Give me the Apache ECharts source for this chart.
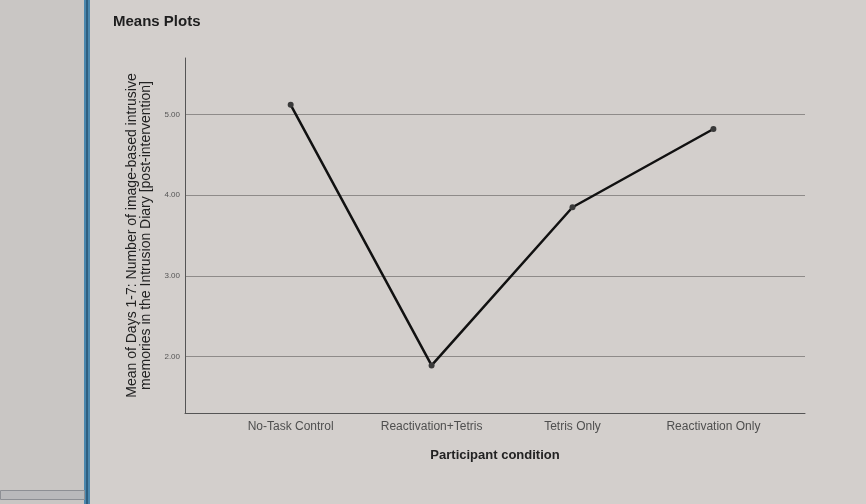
<!DOCTYPE html>
<html><head><meta charset="utf-8">
<script src="https://cdn.jsdelivr.net/npm/echarts@6/dist/echarts.min.js"></script>
<style>html,body{margin:0;padding:0;background:#d3cfcc}#c{width:866px;height:504px}</style>
</head><body><div id="c"></div>
<script>
const categories = ['No-Task Control', 'Reactivation+Tetris', 'Tetris Only', 'Reactivation Only'];
const means = [5.12, 1.89, 3.85, 4.82];
const yTicks = [2, 3, 4, 5];
const xTicks = [0, 1, 2, 3];

const chart = echarts.init(document.getElementById('c'), null, {renderer: 'canvas'});
const font = 'Liberation Sans, Arial, sans-serif';
chart.setOption({
  backgroundColor: '#d3cfcc',
  animation: false,
  graphic: [
    {type: 'rect', left: 0, top: 0, shape: {width: 85, height: 504}, style: {fill: '#c9c6c4'}, z: -10},
    {type: 'rect', left: 84, top: 0, shape: {width: 6, height: 504}, style: {fill: '#4a87ad'}, z: -9},
    {type: 'rect', left: 86, top: 0, shape: {width: 2, height: 504}, style: {fill: '#2e5f80'}, z: -9},
    {type: 'rect', left: 0, top: 490, shape: {width: 84, height: 9}, style: {fill: '#b9b9bb', stroke: '#8d8f94'}, z: -8}
  ],
  title: {
    text: 'Means Plots', left: 108, top: 9,
    textStyle: {fontFamily: font, fontSize: 15, fontWeight: 'bold', color: '#1e1e1e'}
  },
  grid: {left: 185, right: 61, top: 58, bottom: 91},
  xAxis: {
    type: 'value', min: -0.75, max: 3.65,
    name: 'Participant condition', nameLocation: 'middle', nameGap: 36,
    nameTextStyle: {fontFamily: font, fontSize: 13, fontWeight: 'bold', color: '#222'},
    axisLine: {show: true, onZero: false, lineStyle: {color: '#555', width: 1}},
    axisTick: {show: false},
    splitLine: {show: false},
    axisLabel: {
      customValues: xTicks, margin: 8,
      fontFamily: font, fontSize: 12, color: '#4f4f4f',
      formatter: v => categories[Math.round(v)]
    }
  },
  yAxis: {
    type: 'value', min: 1.3, max: 5.7,
    name: 'Mean of Days 1-7: Number of image-based intrusive\nmemories in the Intrusion Diary [post-intervention]',
    nameLocation: 'middle', nameGap: 31, nameRotate: 90,
    nameTextStyle: {fontFamily: font, fontSize: 14, color: '#222', lineHeight: 14},
    axisLine: {show: true, onZero: false, lineStyle: {color: '#555', width: 1}},
    axisTick: {show: false, customValues: yTicks},
    splitLine: {show: true, lineStyle: {color: '#8e8b89', width: 1}},
    axisLabel: {
      customValues: yTicks, margin: 5,
      fontFamily: font, fontSize: 8, color: '#555',
      formatter: v => v.toFixed(2)
    }
  },
  series: [{
    type: 'line',
    data: means.map((v, i) => [i, v]),
    symbol: 'circle', symbolSize: 6,
    lineStyle: {color: '#111', width: 2.5},
    itemStyle: {color: '#3a3a3a'}
  }]
});
</script></body></html>
